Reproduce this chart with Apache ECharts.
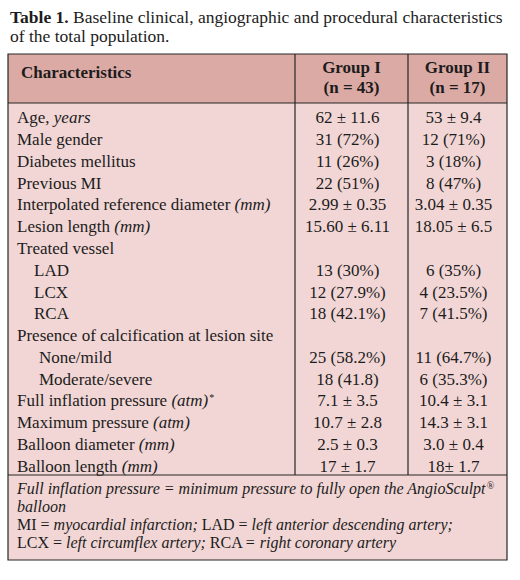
<!DOCTYPE html>
<html><head><meta charset="utf-8">
<script src="https://cdn.jsdelivr.net/npm/echarts@6/dist/echarts.min.js"></script>
<style>html,body{margin:0;padding:0;background:#fff}#c{width:520px;height:580px}</style>
</head><body><div id="c"></div>
<script>
// ---- data ----
const titleLines = ['{b|Table 1.} Baseline clinical, angiographic and procedural characteristics', 'of the total population.'];
const headers = ['Characteristics', 'Group I\n(n = 43)', 'Group II\n(n = 17)'];
const characteristics = [
  'Age, {i|years}',
  'Male gender',
  'Diabetes mellitus',
  'Previous MI',
  'Interpolated reference diameter {i|(mm)}',
  'Lesion length {i|(mm)}',
  'Treated vessel',
  'LAD',
  'LCX',
  'RCA',
  'Presence of calcification at lesion site',
  'None/mild',
  'Moderate/severe',
  'Full inflation pressure {i|(atm)}{sup|*}',
  'Maximum pressure {i|(atm)}',
  'Balloon diameter {i|(mm)}',
  'Balloon length {i|(mm)}'
];
const indentLevels = [0,0,0,0,0,0,0,1,1,1,0,2,2,0,0,0,0];
const group1 = ['62 ± 11.6','31 (72%)','11 (26%)','22 (51%)','2.99 ± 0.35','15.60 ± 6.11','','13 (30%)','12 (27.9%)','18 (42.1%)','','25 (58.2%)','18 (41.8)','7.1 ± 3.5','10.7 ± 2.8','2.5 ± 0.3','17 ± 1.7'];
const group2 = ['53 ± 9.4','12 (71%)','3 (18%)','8 (47%)','3.04 ± 0.35','18.05 ± 6.5','','6 (35%)','4 (23.5%)','7 (41.5%)','','11 (64.7%)','6 (35.3%)','10.4 ± 3.1','14.3 ± 3.1','3.0 ± 0.4','18± 1.7'];
const footnotes = [
  '{i|Full inflation pressure = minimum pressure to fully open the AngioSculpt}{sup|®}',
  '{i|balloon}',
  'MI = {i|myocardial infarction;} LAD = {i|left anterior descending artery;}',
  'LCX = {i|left circumflex artery;} RCA = {i|right coronary artery}'
];

// ---- style / layout ----
const FAM = "Liberation Serif";
const TXT = '#1c1c1c';
const HEAD_BG = '#dcaaa5';
const BODY_BG = '#f1d6d5';
const LINE = '#262626';
const T = {left: 8, right: 507, top: 54, headBottom: 103, bodyBottom: 475, bottom: 560, c1: 295, c2: 408};
const FS = 17;
const INDENT_PX = [0, 17, 22];
function st(size, opts) {
  return Object.assign({fontFamily: FAM, fontSize: size, fill: TXT, font: size + 'px "' + FAM + '"'}, opts || {});
}
function richSet(size) {
  return {
    i: st(size, {fontStyle: 'italic', font: 'italic ' + size + 'px "' + FAM + '"'}),
    b: st(size, {fontWeight: 'bold', font: 'bold ' + size + 'px "' + FAM + '"'}),
    sup: st(10, {padding: [0, 0, 6, 1]})
  };
}

const chart = echarts.init(document.getElementById('c'), null, {renderer: 'svg'});
const rowIdx = characteristics.map((_, i) => i);

const graphics = [
  {type: 'rect', shape: {x: T.left, y: T.top, width: T.right - T.left, height: T.headBottom - T.top}, style: {fill: HEAD_BG}, z: 0},
  {type: 'rect', shape: {x: T.left, y: T.headBottom, width: T.right - T.left, height: T.bottom - T.headBottom}, style: {fill: BODY_BG}, z: 0},
  {type: 'text', x: 10, y: 17, style: st(17.5, {text: titleLines[0], verticalAlign: 'middle', rich: richSet(17.5)}), z: 5},
  {type: 'text', x: 10, y: 36, style: st(17.5, {text: titleLines[1], verticalAlign: 'middle', rich: richSet(17.5)}), z: 5},
  // header texts
  {type: 'text', x: 21, y: 72, style: st(FS, {text: headers[0], fontWeight: 'bold', font: 'bold ' + FS + 'px "' + FAM + '"', verticalAlign: 'middle'}), z: 5},
  {type: 'text', x: (T.c1 + T.c2) / 2, y: 77, style: st(FS, {text: headers[1], fontWeight: 'bold', font: 'bold ' + FS + 'px "' + FAM + '"', align: 'center', verticalAlign: 'middle', lineHeight: 20}), z: 5},
  {type: 'text', x: (T.c2 + T.right) / 2, y: 77, style: st(FS, {text: headers[2], fontWeight: 'bold', font: 'bold ' + FS + 'px "' + FAM + '"', align: 'center', verticalAlign: 'middle', lineHeight: 20}), z: 5},
  // lines
  {type: 'rect', shape: {x: T.left, y: T.top, width: T.right - T.left, height: T.bottom - T.top}, style: {fill: null, stroke: LINE, lineWidth: 1.2}, z: 6},
  {type: 'line', shape: {x1: T.left, y1: T.headBottom, x2: T.right, y2: T.headBottom}, style: {stroke: LINE, lineWidth: 1.2}, z: 6},
  {type: 'line', shape: {x1: T.left, y1: T.bodyBottom, x2: T.right, y2: T.bodyBottom}, style: {stroke: LINE, lineWidth: 1.2}, z: 6},
  {type: 'line', shape: {x1: T.c1, y1: T.top, x2: T.c1, y2: T.bodyBottom}, style: {stroke: LINE, lineWidth: 1.2}, z: 6},
  {type: 'line', shape: {x1: T.c2, y1: T.top, x2: T.c2, y2: T.bodyBottom}, style: {stroke: LINE, lineWidth: 1.2}, z: 6}
];
footnotes.forEach((t, k) => {
  graphics.push({type: 'text', x: 17, y: 488 + k * 18, style: st(FS - 1, {text: t, verticalAlign: 'middle', rich: richSet(FS - 1)}), z: 5});
});

chart.setOption({
  animation: false,
  grid: {left: T.left, top: 107, width: T.right - T.left, height: 370},
  xAxis: {type: 'value', min: 0, max: 1, show: false},
  yAxis: {type: 'category', data: rowIdx, inverse: true, show: false},
  graphic: graphics,
  series: [{
    type: 'custom',
    coordinateSystem: 'cartesian2d',
    data: rowIdx.map(i => [0, i]),
    z: 5,
    renderItem: function (params, api) {
      const i = api.value(1);
      const y = api.coord([0, i])[1];
      const rs = richSet(FS);
      return {type: 'group', children: [
        {type: 'text', x: 17 + INDENT_PX[indentLevels[i]], y: y, style: st(FS, {text: characteristics[i], rich: rs, verticalAlign: 'middle'})},
        {type: 'text', x: (T.c1 + T.c2) / 2 - 4, y: y, style: st(FS, {text: group1[i], align: 'center', verticalAlign: 'middle'})},
        {type: 'text', x: (T.c2 + T.right) / 2 - 4, y: y, style: st(FS, {text: group2[i], align: 'center', verticalAlign: 'middle'})}
      ]};
    }
  }]
});
</script>
</body></html>
